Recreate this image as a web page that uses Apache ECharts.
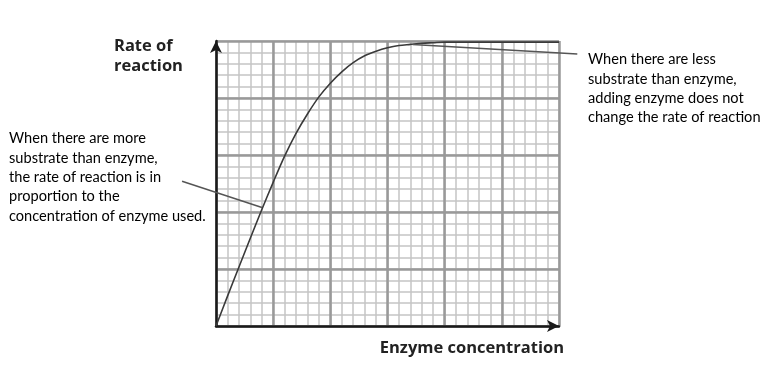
<!DOCTYPE html>
<html>
<head>
<meta charset="utf-8">
<script src="https://cdn.jsdelivr.net/npm/echarts@6/dist/echarts.min.js"></script>
<style>
html,body{margin:0;padding:0;background:#fff;}
#chart{width:783px;height:369px;}
</style>
</head>
<body>
<div id="chart"></div>
<script>
// Data (arbitrary grid units: x 0-30, y 0-25)
const enzymeConcentration = [0, 1, 2, 3, 4, 5, 6, 7, 8, 9, 10, 11, 12, 13, 14, 15, 16, 17, 18, 19, 20, 25, 30];
const rateOfReaction = [0, 2.6, 5.15, 7.7, 10.2, 12.6, 14.9, 16.9, 18.6, 20.1, 21.3, 22.3, 23.1, 23.7, 24.1, 24.4, 24.6, 24.7, 24.8, 24.85, 24.9, 24.9, 24.9];

const xTitle = 'Enzyme concentration';
const yTitleLines = ['Rate of', 'reaction'];
const leftNoteLines = ['When there are more', 'substrate than enzyme,', 'the rate of reaction is in', 'proportion to the', 'concentration of enzyme used.'];
const rightNoteLines = ['When there are less', 'substrate than enzyme,', 'adding enzyme does not', 'change the rate of reaction'];
// leader lines in data units: [from, to]
const leftLeader = [[-2.97, 12.7], [4.02, 10.4]];
const rightLeader = [[17.2, 24.7], [31.6, 23.85]];

const X_MAX = 30, Y_MAX = 25;

const chart = echarts.init(document.getElementById('chart'), null, {renderer: 'canvas'});

function gridAxis(pos, max, interval, color, width, z, withLine) {
  return {
    type: 'value', position: pos, min: 0, max: max, interval: interval, z: z,
    axisLine: withLine ? {show: true, onZero: false, lineStyle: {color: '#1a1a1a', width: 2.5},
      symbol: ['none', 'arrow'], symbolSize: [9, 12]} : {show: false},
    axisTick: {show: false},
    axisLabel: {show: false},
    splitLine: color ? {show: true, lineStyle: {color: color, width: width}} : {show: false}
  };
}

const textFont = 'Lato';
const graphics = [];
const lh = 19.4;
leftNoteLines.forEach((t, i) => {
  graphics.push({type: 'text', left: 9, top: 131 + i * lh,
    style: {text: t, font: '14.6px ' + textFont, fill: '#000'}});
});
rightNoteLines.forEach((t, i) => {
  graphics.push({type: 'text', left: 588, top: 52 + i * lh,
    style: {text: t, font: '14.6px ' + textFont, fill: '#000'}});
});
yTitleLines.forEach((t, i) => {
  graphics.push({type: 'text', left: 114, top: 38 + i * 20,
    style: {text: t, font: 'bold 16.5px "Open Sans"', fill: '#222'}});
});
graphics.push({type: 'text', right: 783 - 564, top: 340,
  style: {text: xTitle, font: 'bold 16.5px "Open Sans"', fill: '#222'}});

chart.setOption({
  animation: false,
  backgroundColor: '#fff',
  grid: {left: 216, top: 41, right: 224, bottom: 43, containLabel: false},
  xAxis: [
    gridAxis('bottom', X_MAX, 1, '#c4c4c4', 1.5, 0, false),
    gridAxis('bottom', X_MAX, 5, '#999999', 2.5, 1, false),
    gridAxis('bottom', X_MAX, X_MAX, null, 0, 3, true)
  ],
  yAxis: [
    gridAxis('left', Y_MAX, 1, '#c4c4c4', 1.5, 0, false),
    gridAxis('left', Y_MAX, 5, '#999999', 2.5, 1, false),
    gridAxis('left', Y_MAX, Y_MAX, null, 0, 3, true)
  ],
  series: [{
    type: 'line',
    xAxisIndex: 0, yAxisIndex: 0,
    data: enzymeConcentration.map((x, i) => [x, rateOfReaction[i]]),
    smooth: 0.3,
    showSymbol: false,
    z: 5,
    lineStyle: {color: '#3a3a3a', width: 1.6}
  }],
  graphic: graphics
});

function px(p) { return chart.convertToPixel({xAxisIndex: 0, yAxisIndex: 0}, p); }
const extra = [leftLeader, rightLeader].map(seg => {
  const a = px(seg[0]), b = px(seg[1]);
  return {type: 'line', z: 10, shape: {x1: a[0], y1: a[1], x2: b[0], y2: b[1]},
    style: {stroke: '#555', lineWidth: 1.5}};
});
chart.setOption({graphic: graphics.concat(extra)});
</script>
</body>
</html>
